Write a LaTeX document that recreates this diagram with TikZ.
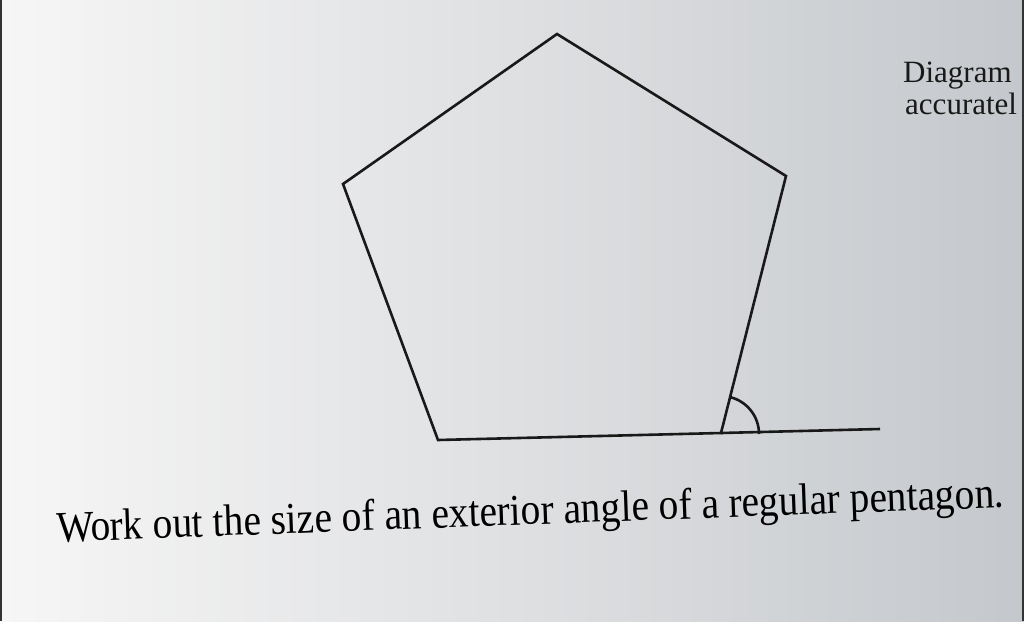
\documentclass[tikz,border=0pt]{standalone}
\usepackage{fontspec}
\setmainfont{Liberation Serif}
\begin{document}
\begin{tikzpicture}[x=1pt,y=-1pt,
  edge/.style={line width=2.6pt,black!90,line join=miter},
  lbl/.style={inner sep=0pt,anchor=base west,text=black!90}]
\definecolor{pageL}{HTML}{F6F6F6}
\definecolor{pageM}{HTML}{DFE0E2}
\definecolor{pageR}{HTML}{C4C8CC}
\useasboundingbox (0,0) rectangle (1024,621);
\shade[left color=pageL,right color=pageR,middle color=pageM] (0,0) rectangle (1024,621);
\fill[black!80] (0,0) rectangle (1.5,621);
\fill[black!80] (1022,0) rectangle (1024,621);
% pentagon
\coordinate (T) at (557,34);
\coordinate (R) at (786,176);
\coordinate (BR) at (721,433);
\coordinate (BL) at (438,440);
\coordinate (L) at (343,184);
\coordinate (E) at (880,429);
\draw[edge] (T) -- (R) -- (BR) -- (BL) -- (L) -- cycle;
\draw[edge] (BR) -- (E);
\draw[edge] ([xshift=38pt,yshift=-1pt]BR) arc[start angle=0,end angle=76,radius=38pt];
% labels
\begin{scope}
\clip (0,0) rectangle (1021.5,621);
\node[lbl,font=\fontsize{31}{31}\selectfont] (d1) at (903,82) {Diagram};
\node[lbl,font=\fontsize{31}{31}\selectfont] (d2) at (905,114) {accuratel};
\end{scope}
\node[lbl,font=\fontsize{44}{44}\selectfont,rotate=2.1,xscale=0.895,text=black] (q) at (57,542) {Work out the size of an exterior angle of a regular pentagon.};
\end{tikzpicture}
\end{document}
